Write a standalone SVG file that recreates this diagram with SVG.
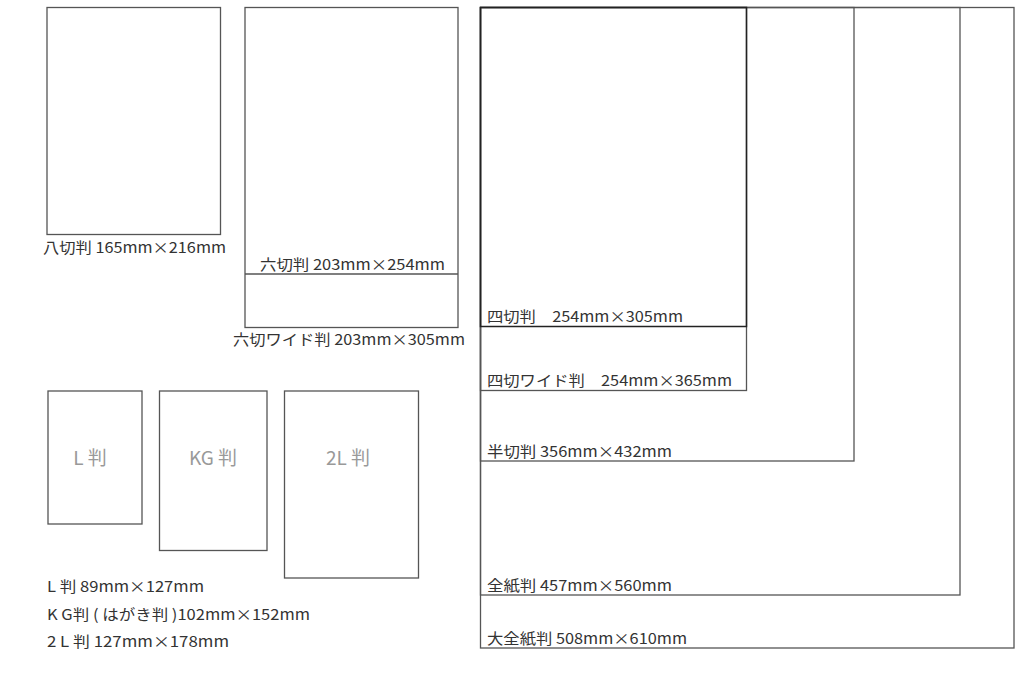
<svg xmlns="http://www.w3.org/2000/svg" width="1024" height="674" viewBox="0 0 1024 674">
<style>
.box{fill:none;stroke:#555;stroke-width:1.3}
.dark{fill:none;stroke:#222;stroke-width:1.5}
.lbl{font-family:"Noto Sans CJK JP","Noto Sans",sans-serif;font-size:15px;fill:#333}
.inner{font-family:"Noto Sans CJK JP","Noto Sans",sans-serif;font-size:19px;fill:#999;text-anchor:middle}
</style>
<rect width="1024" height="674" fill="#fff"/>
<g id="daizenshi">
<rect class="box" x="480.5" y="7.5" width="533.5" height="640.5"/>
<text class="lbl" x="487" y="644" textLength="200" lengthAdjust="spacingAndGlyphs">大全紙判 508mm×610mm</text>
</g>
<g id="zenshi">
<rect class="box" x="480.5" y="7.5" width="479.5" height="587.5"/>
<text class="lbl" x="487" y="591" textLength="185" lengthAdjust="spacingAndGlyphs">全紙判 457mm×560mm</text>
</g>
<g id="hangiri">
<rect class="box" x="480.5" y="7.5" width="373.5" height="453.5"/>
<text class="lbl" x="487" y="456.5" textLength="185" lengthAdjust="spacingAndGlyphs">半切判 356mm×432mm</text>
</g>
<g id="yotsugiri-wide">
<rect class="box" x="480.5" y="7.5" width="266" height="383"/>
<text class="lbl" x="487" y="386" textLength="245" lengthAdjust="spacingAndGlyphs">四切ワイド判　254mm×365mm</text>
</g>
<g id="yotsugiri">
<rect class="dark" x="480.5" y="7.5" width="266" height="319"/>
<text class="lbl" x="487" y="322" textLength="196" lengthAdjust="spacingAndGlyphs">四切判　254mm×305mm</text>
</g>
<g id="yatsugiri">
<rect class="box" x="47" y="7.5" width="173.5" height="227"/>
<text class="lbl" x="43" y="253" textLength="183" lengthAdjust="spacingAndGlyphs">八切判 165mm×216mm</text>
</g>
<g id="mutsugiri-wide">
<rect class="box" x="245" y="7.5" width="213" height="320"/>
<text class="lbl" x="233" y="345" textLength="232" lengthAdjust="spacingAndGlyphs">六切ワイド判 203mm×305mm</text>
</g>
<g id="mutsugiri">
<line class="box" x1="245" y1="274" x2="458" y2="274"/>
<text class="lbl" x="260" y="270" textLength="185" lengthAdjust="spacingAndGlyphs">六切判 203mm×254mm</text>
</g>
<g id="l-size">
<rect class="box" x="48" y="391" width="94" height="133"/>
<text class="inner" x="90" y="465">L 判</text>
</g>
<g id="kg-size">
<rect class="box" x="159.5" y="391" width="107.5" height="159.5"/>
<text class="inner" x="213" y="465">KG 判</text>
</g>
<g id="2l-size">
<rect class="box" x="284.5" y="391" width="134" height="187"/>
<text class="inner" x="348" y="465">2L 判</text>
</g>
<g id="legend">
<text class="lbl" x="47" y="592" textLength="157" lengthAdjust="spacingAndGlyphs">L 判 89mm×127mm</text>
<text class="lbl" x="47" y="620" textLength="263" lengthAdjust="spacingAndGlyphs">K G判 ( はがき判 )102mm×152mm</text>
<text class="lbl" x="47" y="647" textLength="182" lengthAdjust="spacingAndGlyphs">2 L 判 127mm×178mm</text>
</g>
<g id="connectors"></g>
</svg>
